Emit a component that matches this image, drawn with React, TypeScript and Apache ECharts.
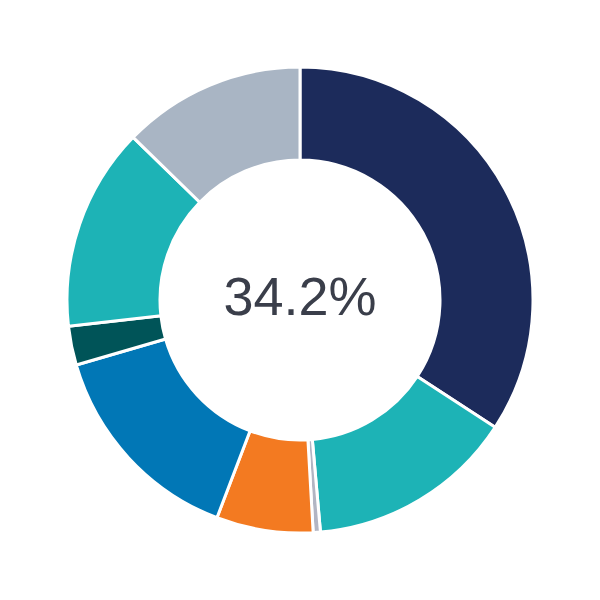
import React, { useEffect, useRef } from "react";
import * as echarts from "echarts";

const categories = ["A", "B", "C", "D", "E", "F", "G", "H"];
const values = [34.2, 14.4, 0.5, 6.7, 14.7, 2.7, 14.1, 12.7];
const colors = ["#1c2b5b", "#1db3b6", "#b2b5c3", "#f37a21", "#0177b6", "#005458", "#1db3b6", "#a9b5c4"];
const centerLabel = "34.2%";

export default function App() {
  const ref = useRef<HTMLDivElement>(null);
  useEffect(() => {
    if (!ref.current) return;
    const chart = echarts.init(ref.current, undefined, { renderer: "svg" });
    chart.setOption({
      animation: false,
      backgroundColor: "#ffffff",
      graphic: [
        {
          type: "text",
          x: 300,
          y: 296,
          style: {
            text: centerLabel,
            align: "center",
            verticalAlign: "middle",
            fontFamily: "Liberation Sans, Arial, sans-serif",
            fontSize: 54,
            fontWeight: "normal",
            fill: "#3a3e4a",
          },
          z: 10,
        },
      ],
      series: [
        {
          type: "pie",
          center: [300, 300],
          radius: [140, 233],
          startAngle: 90,
          clockwise: true,
          label: { show: false },
          labelLine: { show: false },
          itemStyle: { borderColor: "#ffffff", borderWidth: 3 },
          data: categories.map((c, i) => ({
            name: c,
            value: values[i],
            itemStyle: { color: colors[i] },
          })),
        },
      ],
    });
    return () => chart.dispose();
  }, []);
  return (
    <div
      ref={ref}
      style={{ position: "fixed", left: 0, top: 0, width: 600, height: 600 }}
    />
  );
}
